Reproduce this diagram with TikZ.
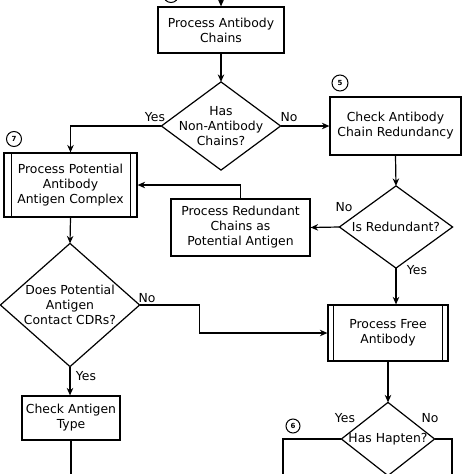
\documentclass[tikz,border=0pt]{standalone}
\usepackage{fontspec}
\setmainfont{DejaVu Sans}
\usetikzlibrary{arrows.meta}
\begin{document}
\begin{tikzpicture}[x=1pt,y=-1pt,
  line width=1.2pt,
  every node/.style={font=\fontsize{12.4}{15}\selectfont, align=center, inner sep=0pt},
  arr/.style={-{Stealth[length=7.5pt,width=6.5pt]}},
  proc/.style={draw, rectangle, minimum width=#1},
  dia/.style={rectangle, draw=none},
  lbl/.style={font=\fontsize{12.4}{15}\selectfont},
  numc/.style={draw, circle, line width=1pt, minimum size=#1, font=\fontsize{7}{7}\selectfont\bfseries}
]
\useasboundingbox (0,0) rectangle (474,474);
\clip (0,0) rectangle (474,474);
\fill[white] (0,0) rectangle (474,474);

% boxes
\node[proc=126, minimum height=46] (pac) at (221,30) {Process Antibody\\Chains};
\node[proc=131, minimum height=58] (cacr) at (395.5,126) {Check Antibody\\Chain Redundancy};
\node[proc=133, minimum height=64] (ppa) at (70.5,185) {Process Potential\\Antibody\\Antigen Complex};
\draw ([xshift=8pt]ppa.north west) -- ([xshift=8pt]ppa.south west);
\draw ([xshift=-7pt]ppa.north east) -- ([xshift=-7pt]ppa.south east);
\node[proc=139, minimum height=57] (prc) at (240.5,227.5) {Process Redundant\\Chains as\\Potential Antigen};
\node[proc=120, minimum height=56] (pfa) at (388,333) {Process Free\\Antibody};
\draw ([xshift=6pt]pfa.north west) -- ([xshift=6pt]pfa.south west);
\draw ([xshift=-6pt]pfa.north east) -- ([xshift=-6pt]pfa.south east);
\node[proc=98, minimum height=44] (cat) at (71,418) {Check Antigen\\Type};

% diamonds
\node[dia, minimum width=118, minimum height=87] (d1) at (221,126) {Has\\Non-Antibody\\Chains?};
\draw (d1.north) -- (d1.east) -- (d1.south) -- (d1.west) -- cycle;
\node[dia, minimum width=112, minimum height=81] (d2) at (396,227) {Is Redundant?};
\draw (d2.north) -- (d2.east) -- (d2.south) -- (d2.west) -- cycle;
\node[dia, minimum width=138, minimum height=122] (d3) at (70,305) {Does Potential\\Antigen\\Contact CDRs?};
\draw (d3.north) -- (d3.east) -- (d3.south) -- (d3.west) -- cycle;
\node[dia, minimum width=92, minimum height=72] (d4) at (388,439) {Has Hapten?};
\draw (d4.north) -- (d4.east) -- (d4.south) -- (d4.west) -- cycle;

% numbered circles
\node[numc=15] (n0) at (171,-5) {};
\node[numc=16] (n5) at (340,83) {5};
\node[numc=15] (n7) at (14,139) {7};
\node[numc=14] (n6) at (293,426) {6};

% free ends
\coordinate (top) at (221,-2);
\coordinate (b1) at (70.5,476);
\coordinate (b2) at (283,476);
\coordinate (b3) at (452,476);

% connectors
\draw[arr] (top) -- (pac.north);
\draw[arr] (pac.south) -- (d1.north);
\draw[arr] (d1.west) -| (ppa.north);
\draw[arr] (d1.east) -- (cacr.west);
\draw[arr] (cacr.south) -- (d2.north);
\draw[arr] (d2.west) -- (prc.east);
\draw[arr] (prc.north) |- (ppa.east);
\draw[arr] (ppa.south) -- (d3.north);
\draw[arr] (d3.east) -- ++(60,0) |- (pfa.west);
\draw[arr] (d2.south) -- (d2.south |- pfa.north);
\draw[arr] (pfa.south) -- (d4.north);
\draw[arr] (d3.south) -- (d3.south |- cat.north);
\draw (cat.south) -- (cat.south |- b1);
\draw (d4.west) -| (b2);
\draw (d4.east) -| (b3);

% labels
\node[lbl] (l1) at (155,117) {Yes};
\node[lbl] (l2) at (289,117) {No};
\node[lbl] (l3) at (344,207) {No};
\node[lbl] (l4) at (417,270) {Yes};
\node[lbl] (l5) at (147,298) {No};
\node[lbl] (l6) at (86,376) {Yes};
\node[lbl] (l7) at (345,418) {Yes};
\node[lbl] (l8) at (430,418) {No};
\end{tikzpicture}
\end{document}
